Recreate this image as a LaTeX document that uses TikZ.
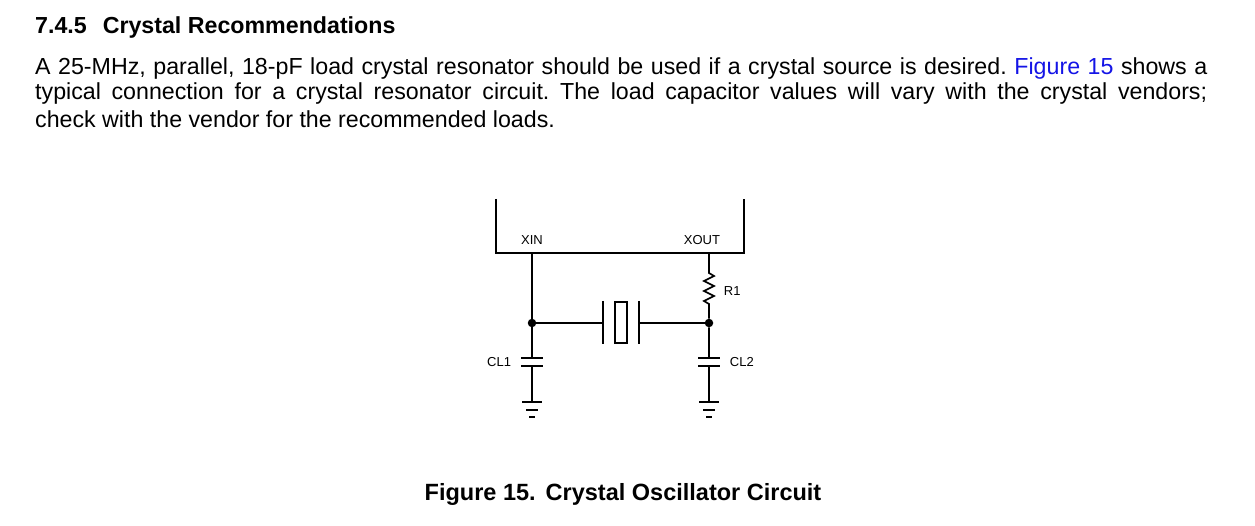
\documentclass[tikz,border=0pt]{standalone}
\usepackage{fontspec}
\setmainfont{Liberation Sans}
\usetikzlibrary{positioning}
\definecolor{linkblue}{RGB}{20,20,230}
\tikzset{
  wire/.style={line width=1.7pt},
  lbl/.style={inner sep=0.75pt,font=\fontsize{13}{15}\selectfont},
  body/.style={inner sep=0pt,anchor=west,font=\fontsize{23.2}{25}\selectfont},
  dot/.style={circle,fill,inner sep=0pt,minimum size=8.5pt},
}
\begin{document}
\frenchspacing
\begin{tikzpicture}[x=1pt,y=1pt,yscale=-1,xscale=1]
\useasboundingbox (0,0) rectangle (1255,526);
% text
\draw (35,28) node [body,font=\fontsize{23.2}{25}\selectfont\bfseries] (head) {7.4.5\hspace{16pt}Crystal Recommendations};
\draw (35,69) node [body] (par1) {\makebox[1172pt][s]{A 25-MHz, parallel, 18-pF load crystal resonator should be used if a crystal source is desired. \textcolor{linkblue}{Figure 15} shows a}};
\draw (35,94) node [body] (par2) {\makebox[1172pt][s]{typical connection for a crystal resonator circuit. The load capacitor values will vary with the crystal vendors;}};
\draw (35,119) node [body] (par3) {check with the vendor for the recommended loads.};
\draw (623,494) node [inner sep=0pt,font=\fontsize{23.5}{25}\selectfont\bfseries] (cap) {Figure 15.\hspace{10pt}Crystal Oscillator Circuit};
% device outline
\coordinate (tl) at (496,199);
\coordinate (bl) at (496,253);
\coordinate (br) at (744,253);
\coordinate (tr) at (744,199);
\draw[line width=2.8pt] (tl) -- (bl) -- (br) -- (tr);
\draw (532,240) node [lbl] (xin) {XIN};
\draw (702,240) node [lbl] (xout) {XOUT};
% left branch
\coordinate (pinA) at (532,253);
\node[dot] (jA) at (532,323) {};
\coordinate (c1t) at (532,358);
\coordinate (c1b) at (532,366);
\coordinate (g1) at (532,402);
\draw[wire] (pinA) -- (jA) -- (c1t);
\draw[wire] (c1b) -- (g1);
\draw[wire] ([xshift=-11pt]c1t) -- ([xshift=11pt]c1t);
\draw[wire] ([xshift=-11pt]c1b) -- ([xshift=11pt]c1b);
\draw (512,362) node [lbl,anchor=east] (cl1) {CL1};
% right branch
\coordinate (pinB) at (709,253);
\coordinate (r1t) at (709,273);
\coordinate (r1b) at (709,305);
\node[dot] (jB) at (709,323) {};
\coordinate (c2t) at (709,358);
\coordinate (c2b) at (709,366);
\coordinate (g2) at (709,402);
\draw[wire] (pinB) -- (r1t) -- ++(5,3) -- ++(-10,5) -- ++(10,5) -- ++(-10,5) -- ++(10,5) -- ++(-10,5) -- ++(5,3) -- (r1b) -- (jB) -- (c2t);
\draw[wire] (c2b) -- (g2);
\draw[wire] ([xshift=-11pt]c2t) -- ([xshift=11pt]c2t);
\draw[wire] ([xshift=-11pt]c2b) -- ([xshift=11pt]c2b);
\draw (723,291) node [lbl,anchor=west] (r1) {R1};
\draw (729,362) node [lbl,anchor=west] (cl2) {CL2};
% crystal
\coordinate (xa) at (603,323);
\coordinate (xb) at (639,323);
\draw[wire] (jA) -- (xa);
\draw[wire] (xb) -- (jB);
\draw[wire] (603,301) -- (603,344);
\draw[wire] (639,301) -- (639,344);
\draw[wire] (615,302) rectangle (627,343);
% grounds
\foreach \g in {g1,g2}{
  \draw[wire] ([xshift=-10pt]\g) -- ([xshift=10pt]\g);
  \draw[wire] ([xshift=-6pt,yshift=8pt]\g) -- ([xshift=6pt,yshift=8pt]\g);
  \draw[wire] ([xshift=-3pt,yshift=15pt]\g) -- ([xshift=3pt,yshift=15pt]\g);
}
\end{tikzpicture}
\end{document}
